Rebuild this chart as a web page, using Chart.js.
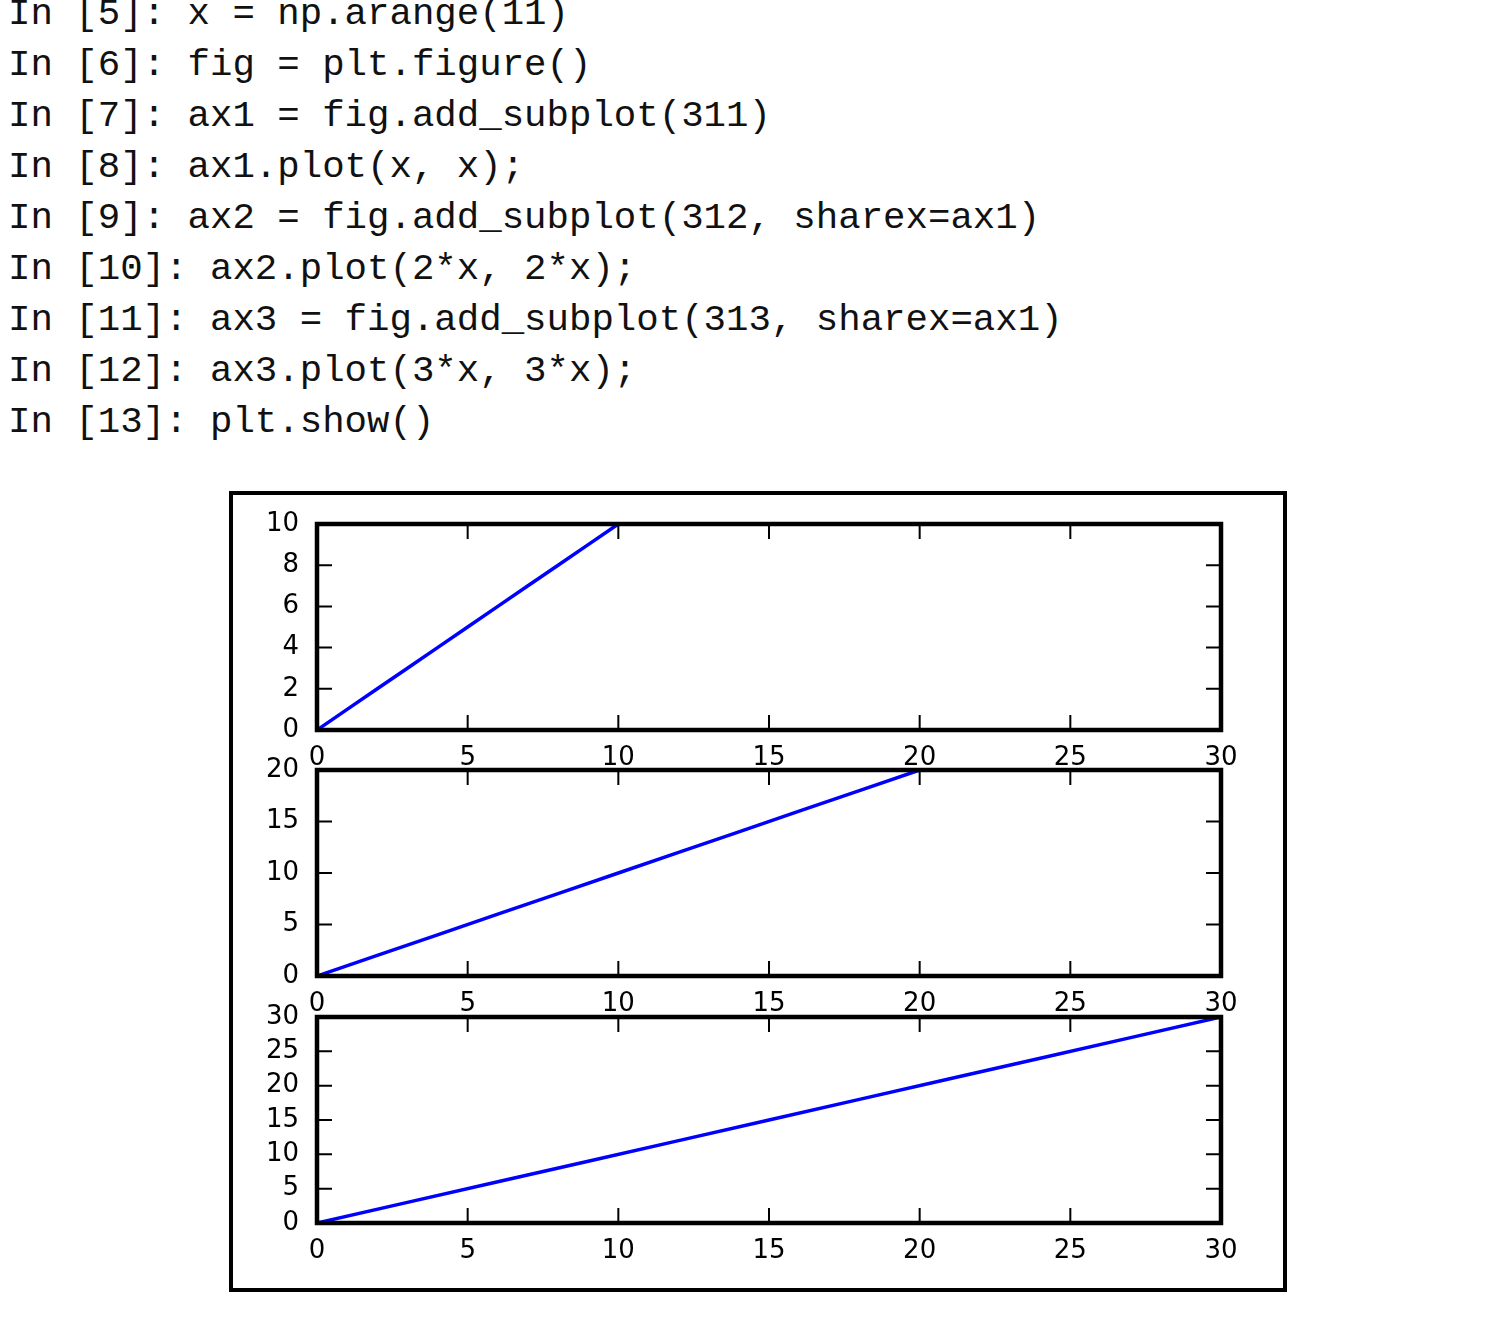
<!DOCTYPE html>
<html><head><meta charset="utf-8">
<script src="https://cdn.jsdelivr.net/npm/chart.js@4"></script>
<style>
html,body{margin:0;padding:0;background:#fff;width:1499px;height:1341px;overflow:hidden;position:relative;}
#code{position:absolute;left:8px;top:-11px;font-family:"Liberation Mono",monospace;font-size:37.4px;line-height:51px;color:#111;white-space:pre;margin:0;}
#fig{position:absolute;left:229px;top:491px;width:1050px;height:793px;border:4px solid #000;}
canvas{position:absolute;}
</style></head><body>
<pre id="code"></pre>
<div id="fig"></div>
<canvas id="c1" width="1020" height="271" style="left:240px;top:504px"></canvas>
<canvas id="c2" width="1020" height="271" style="left:240px;top:750px"></canvas>
<canvas id="c3" width="1020" height="271" style="left:240px;top:997px"></canvas>
<script>
const codeLines = [
  "In [5]: x = np.arange(11)",
  "In [6]: fig = plt.figure()",
  "In [7]: ax1 = fig.add_subplot(311)",
  "In [8]: ax1.plot(x, x);",
  "In [9]: ax2 = fig.add_subplot(312, sharex=ax1)",
  "In [10]: ax2.plot(2*x, 2*x);",
  "In [11]: ax3 = fig.add_subplot(313, sharex=ax1)",
  "In [12]: ax3.plot(3*x, 3*x);",
  "In [13]: plt.show()"
];
document.getElementById('code').textContent = codeLines.join("\n");

const x1 = [0,1,2,3,4,5,6,7,8,9,10];
const y1 = [0,1,2,3,4,5,6,7,8,9,10];
const x2 = [0,2,4,6,8,10,12,14,16,18,20];
const y2 = [0,2,4,6,8,10,12,14,16,18,20];
const x3 = [0,3,6,9,12,15,18,21,24,27,30];
const y3 = [0,3,6,9,12,15,18,21,24,27,30];

const xMax = 30, xStep = 5;
const yLimits = [[0,10,2],[0,20,5],[0,30,5]];

const frameTicks = {
  id:'frameTicks',
  afterDraw(chart){
    const {ctx, chartArea:a, scales:{x,y}} = chart;
    ctx.save();
    ctx.strokeStyle='#000'; ctx.lineWidth=2;
    ctx.beginPath();
    x.ticks.forEach(t=>{const px=x.getPixelForValue(t.value);
      ctx.moveTo(px,a.bottom); ctx.lineTo(px,a.bottom-15);
      ctx.moveTo(px,a.top); ctx.lineTo(px,a.top+15);});
    y.ticks.forEach(t=>{const py=y.getPixelForValue(t.value);
      ctx.moveTo(a.left,py); ctx.lineTo(a.left+15,py);
      ctx.moveTo(a.right,py); ctx.lineTo(a.right-15,py);});
    ctx.stroke();
    ctx.lineWidth=4.5;
    ctx.strokeRect(a.left,a.top,a.right-a.left,a.bottom-a.top);
    ctx.restore();
  }
};

function makeChart(id, xs, ys, lim){
  const pts = xs.map((v,i)=>({x:v, y:ys[i]}));
  new Chart(document.getElementById(id), {
    type:'line',
    data:{datasets:[{data:pts, borderColor:'#0000ff', borderWidth:3.5, pointRadius:0, tension:0, fill:false}]},
    options:{
      responsive:false, animation:false,
      layout:{padding:{top:20,left:0,right:39,bottom:0}},
      plugins:{legend:{display:false}, tooltip:{enabled:false}},
      scales:{
        x:{type:'linear', min:0, max:xMax, grid:{display:false, drawTicks:false}, border:{display:false},
           ticks:{stepSize:xStep, color:'#000', padding:13, maxRotation:0, autoSkip:false, font:{family:'DejaVu Sans', size:26}},
           afterFit(s){s.height=45; s.paddingLeft=0; s.paddingRight=0;}},
        y:{type:'linear', min:lim[0], max:lim[1], grid:{display:false, drawTicks:false}, border:{display:false},
           ticks:{stepSize:lim[2], color:'#000', padding:18, autoSkip:false, font:{family:'DejaVu Sans', size:26, lineHeight:1.0}},
           afterFit(s){s.width=77; s.paddingTop=0; s.paddingBottom=0;}}
      }
    },
    plugins:[frameTicks]
  });
}
makeChart('c1', x1, y1, yLimits[0]);
makeChart('c2', x2, y2, yLimits[1]);
makeChart('c3', x3, y3, yLimits[2]);
</script>
</body></html>
